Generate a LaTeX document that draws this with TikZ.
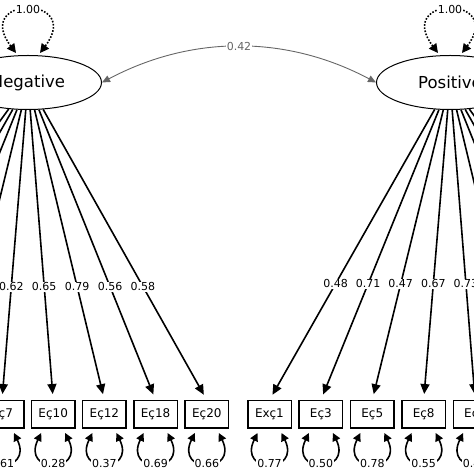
\documentclass[tikz,border=0pt]{standalone}
\usepackage{fontspec}
\setmainfont{DejaVu Sans}
\usetikzlibrary{arrows.meta,shapes.geometric}
\begin{document}
\begin{tikzpicture}[x=1pt,y=1pt,>={Triangle[length=10pt,width=9pt]},
		latent/.style={draw,ellipse,line width=1pt,fill=white,minimum width=147pt,minimum height=54pt,inner sep=0pt,font=\fontsize{16.5}{18}\selectfont},
		item/.style={draw,rectangle,line width=1.5pt,fill=white,minimum width=43.5pt,minimum height=27.5pt,inner sep=0pt,font=\fontsize{12}{14}\selectfont},
		est/.style={fill=white,inner sep=1pt,font=\fontsize{11}{13}\selectfont},
		load/.style={->,line width=1.6pt,shorten >=6pt},
		resid/.style={<->,line width=1.6pt,>={Triangle[length=8pt,width=8pt]}},
		var/.style={<->,line width=1.6pt,dash pattern=on 1.6pt off 1.6pt,>={Triangle[length=9pt,width=9pt]}},
		cov/.style={<->,line width=0.9pt,color=black!60,>={Triangle[length=8pt,width=7pt]}}]
				\path[use as bounding box,clip] (0,0) rectangle (474,474);
				\node[latent] (neg) at (28,391.5) {Negative};
				\node[latent] (pos) at (450,391.5) {Positive};
				\node[item] (e7) at (2,59.5) {Eç7};
				\node[item] (e10) at (53.2,59.5) {Eç10};
				\node[item] (e12) at (104.4,59.5) {Eç12};
				\node[item] (e18) at (155.6,59.5) {Eç18};
				\node[item] (e20) at (206.8,59.5) {Eç20};
				\node[item] (ex1) at (269.5,59.5) {Exç1};
				\node[item] (e3) at (320.9,59.5) {Eç3};
				\node[item] (e5) at (372.3,59.5) {Eç5};
				\node[item] (e8) at (423.7,59.5) {Eç8};
				\node[item] (e9) at (475.1,59.5) {Eç9};
				\path (-49.2,74) coordinate (n1) (-100.4,74) coordinate (n2) (-151.6,74) coordinate (n3) (-202.8,74) coordinate (n4);
				\path (526.5,74) coordinate (p1) (577.9,74) coordinate (p2) (629.3,74) coordinate (p3) (680.7,74) coordinate (p4);
				\draw[cov] (neg.east) to[out=28,in=152,looseness=0.95] node[est,midway]{0.42} (pos.west);
				\draw[var] ([xshift=-12pt,yshift=2pt]neg.north) .. controls ([xshift=-56pt,yshift=60pt]neg.north) and ([xshift=56pt,yshift=60pt]neg.north) .. ([xshift=12pt,yshift=2pt]neg.north) node[est,midway]{1.00};
				\draw[var] ([xshift=-12pt,yshift=2pt]pos.north) .. controls ([xshift=-56pt,yshift=60pt]pos.north) and ([xshift=56pt,yshift=60pt]pos.north) .. ([xshift=12pt,yshift=2pt]pos.north) node[est,midway]{1.00};
				\draw[load] (neg) edge (n1) edge (n2) edge (n3) edge (n4)
					edge node[est,pos=0.61]{0.62} (e7.north) edge node[est,pos=0.61]{0.65} (e10.north) edge node[est,pos=0.61]{0.79} (e12.north)
					edge node[est,pos=0.61]{0.56} (e18.north) edge node[est,pos=0.61]{0.58} (e20.north);
				\draw[load] (pos) edge (p1) edge (p2) edge (p3) edge (p4)
					edge node[est,pos=0.6]{0.48} (ex1.north) edge node[est,pos=0.6]{0.71} (e3.north) edge node[est,pos=0.6]{0.47} (e5.north)
					edge node[est,pos=0.6]{0.67} (e8.north) edge node[est,pos=0.6]{0.73} (e9.north);
				\draw[resid] ([xshift=-12pt,yshift=-4pt]e7.south) .. controls ([xshift=-32pt,yshift=-45pt]e7.south) and ([xshift=32pt,yshift=-45pt]e7.south) .. ([xshift=12pt,yshift=-4pt]e7.south) node[est,midway]{0.61};
				\draw[resid] ([xshift=-12pt,yshift=-4pt]e10.south) .. controls ([xshift=-32pt,yshift=-45pt]e10.south) and ([xshift=32pt,yshift=-45pt]e10.south) .. ([xshift=12pt,yshift=-4pt]e10.south) node[est,midway]{0.28};
				\draw[resid] ([xshift=-12pt,yshift=-4pt]e12.south) .. controls ([xshift=-32pt,yshift=-45pt]e12.south) and ([xshift=32pt,yshift=-45pt]e12.south) .. ([xshift=12pt,yshift=-4pt]e12.south) node[est,midway]{0.37};
				\draw[resid] ([xshift=-12pt,yshift=-4pt]e18.south) .. controls ([xshift=-32pt,yshift=-45pt]e18.south) and ([xshift=32pt,yshift=-45pt]e18.south) .. ([xshift=12pt,yshift=-4pt]e18.south) node[est,midway]{0.69};
				\draw[resid] ([xshift=-12pt,yshift=-4pt]e20.south) .. controls ([xshift=-32pt,yshift=-45pt]e20.south) and ([xshift=32pt,yshift=-45pt]e20.south) .. ([xshift=12pt,yshift=-4pt]e20.south) node[est,midway]{0.66};
				\draw[resid] ([xshift=-12pt,yshift=-4pt]ex1.south) .. controls ([xshift=-32pt,yshift=-45pt]ex1.south) and ([xshift=32pt,yshift=-45pt]ex1.south) .. ([xshift=12pt,yshift=-4pt]ex1.south) node[est,midway]{0.77};
				\draw[resid] ([xshift=-12pt,yshift=-4pt]e3.south) .. controls ([xshift=-32pt,yshift=-45pt]e3.south) and ([xshift=32pt,yshift=-45pt]e3.south) .. ([xshift=12pt,yshift=-4pt]e3.south) node[est,midway]{0.50};
				\draw[resid] ([xshift=-12pt,yshift=-4pt]e5.south) .. controls ([xshift=-32pt,yshift=-45pt]e5.south) and ([xshift=32pt,yshift=-45pt]e5.south) .. ([xshift=12pt,yshift=-4pt]e5.south) node[est,midway]{0.78};
				\draw[resid] ([xshift=-12pt,yshift=-4pt]e8.south) .. controls ([xshift=-32pt,yshift=-45pt]e8.south) and ([xshift=32pt,yshift=-45pt]e8.south) .. ([xshift=12pt,yshift=-4pt]e8.south) node[est,midway]{0.55};
				\draw[resid] ([xshift=-12pt,yshift=-4pt]e9.south) .. controls ([xshift=-32pt,yshift=-45pt]e9.south) and ([xshift=32pt,yshift=-45pt]e9.south) .. ([xshift=12pt,yshift=-4pt]e9.south) node[est,midway]{0.46};
			\end{tikzpicture}
\end{document}
